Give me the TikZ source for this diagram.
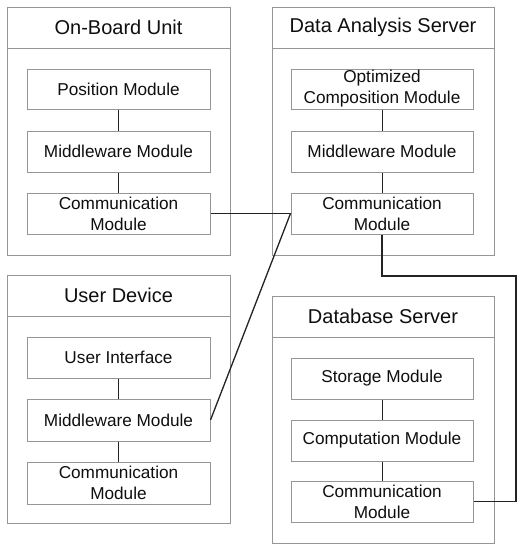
\documentclass[tikz,border=0pt]{standalone}
\usepackage{fontspec}
\setmainfont{Liberation Sans}
\definecolor{boxgray}{RGB}{150,150,150}
\definecolor{linedark}{RGB}{35,35,35}
\definecolor{txt}{RGB}{15,15,15}
\begin{document}
\begin{tikzpicture}[x=1pt,y=-1pt,
  frame/.style={draw=boxgray,line width=1pt,rectangle,inner sep=0pt,text=txt},
  titlebox/.style={frame,minimum height=41pt,font=\fontsize{20}{24}\selectfont},
  bodybox/.style={frame},
  modbox/.style={frame,minimum height=41pt,align=center,font=\fontsize{17.2}{21}\selectfont},
  link/.style={draw=linedark,line width=1.3pt},
  inlink/.style={draw=linedark,line width=1pt}]
\useasboundingbox[fill=white] (0,0) rectangle (521,550);
% On-Board Unit
\node[bodybox,minimum width=223pt,minimum height=207pt] (obub) at (118.5,151.5) {};
\node[titlebox,minimum width=223pt] (obut) at (118.5,27.5) {On-Board Unit};
\node[modbox,minimum width=183pt,minimum height=40pt] (obu1) at (118.5,89) {Position Module};
\node[modbox,minimum width=183pt] (obu2) at (118.5,151.5) {Middleware Module};
\node[modbox,minimum width=183pt] (obu3) at (118.5,213.5) {Communication\\Module};
% Data Analysis Server
\node[bodybox,minimum width=222pt,minimum height=207pt] (dasb) at (383,151.5) {};
\node[titlebox,minimum width=222pt] (dast) at (383,27.5) {Data Analysis Server};
\node[modbox,minimum width=182pt,minimum height=40pt] (das1) at (382,89) {Optimized\\Composition Module};
\node[modbox,minimum width=182pt] (das2) at (382,151.5) {Middleware Module};
\node[modbox,minimum width=182pt] (das3) at (382,213.5) {Communication\\Module};
% User Device
\node[bodybox,minimum width=223pt,minimum height=207pt] (udb) at (118.5,419.5) {};
\node[titlebox,minimum width=223pt] (udt) at (118.5,295.5) {User Device};
\node[modbox,minimum width=183pt] (ud1) at (118.5,357.5) {User Interface};
\node[modbox,minimum width=183pt,minimum height=42pt] (ud2) at (118.5,420) {Middleware Module};
\node[modbox,minimum width=183pt,minimum height=42pt] (ud3) at (118.5,483) {Communication\\Module};
% Database Server
\node[bodybox,minimum width=222pt,minimum height=206pt] (dbb) at (383,440) {};
\node[titlebox,minimum width=222pt] (dbt) at (383,316.5) {Database Server};
\node[modbox,minimum width=182pt] (db1) at (382,378.5) {Storage Module};
\node[modbox,minimum width=182pt] (db2) at (382,440.5) {Computation Module};
\node[modbox,minimum width=182pt] (db3) at (382,501.5) {Communication\\Module};
% inner links
\draw[inlink] (obu1.south) -- (obu2.north);
\draw[inlink] (obu2.south) -- (obu3.north);
\draw[inlink] (das1.south) -- (das2.north);
\draw[inlink] (das2.south) -- (das3.north);
\draw[inlink] (ud1.south) -- (ud2.north);
\draw[inlink] (ud2.south) -- (ud3.north);
\draw[inlink] (db1.south) -- (db2.north);
\draw[inlink] (db2.south) -- (db3.north);
% outer links
\coordinate (turn) at (516,276);
\draw[link] (obu3.east) -- (das3.west);
\draw[link] (das3.west) -- (ud2.east);
\draw[link] (das3.south) |- (turn) |- (db3.east);
\end{tikzpicture}
\end{document}
